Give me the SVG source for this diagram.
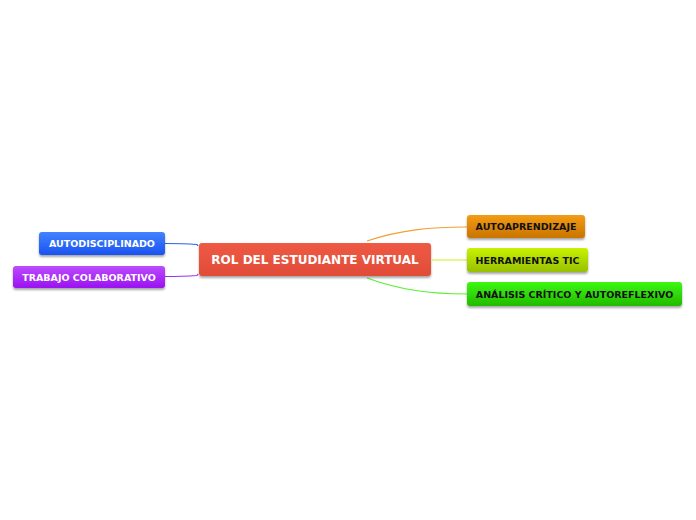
<svg xmlns="http://www.w3.org/2000/svg" width="696" height="520" viewBox="0 0 696 520">
<defs>
<filter id="sh" x="-10%" y="-30%" width="120%" height="170%">
<feGaussianBlur in="SourceAlpha" stdDeviation="1.2"/>
<feOffset dy="2" result="b"/>
<feComponentTransfer><feFuncA type="linear" slope="0.35"/></feComponentTransfer>
<feMerge><feMergeNode/><feMergeNode in="SourceGraphic"/></feMerge>
</filter>
<linearGradient id="gC" x1="0" y1="0" x2="0" y2="1"><stop offset="0" stop-color="#EE5A44"/><stop offset="1" stop-color="#E14C38"/></linearGradient>
<linearGradient id="gO" x1="0" y1="0" x2="0" y2="1"><stop offset="0" stop-color="#F49C14"/><stop offset="1" stop-color="#C87400"/></linearGradient>
<linearGradient id="gY" x1="0" y1="0" x2="0" y2="1"><stop offset="0" stop-color="#C8F206"/><stop offset="1" stop-color="#98C000"/></linearGradient>
<linearGradient id="gG" x1="0" y1="0" x2="0" y2="1"><stop offset="0" stop-color="#3DF812"/><stop offset="1" stop-color="#22BA00"/></linearGradient>
<linearGradient id="gB" x1="0" y1="0" x2="0" y2="1"><stop offset="0" stop-color="#4284FF"/><stop offset="1" stop-color="#1A52F0"/></linearGradient>
<linearGradient id="gP" x1="0" y1="0" x2="0" y2="1"><stop offset="0" stop-color="#BC4CFF"/><stop offset="1" stop-color="#9A12F0"/></linearGradient>
</defs>
<style>
.t{font-family:"DejaVu Sans","Verdana",sans-serif;font-weight:bold;text-anchor:middle}
.c{font-size:12px;fill:#ffffff}
.s{font-size:9.5px}
.dk{fill:#111111}
.wh{fill:#ffffff}
.ln{fill:none;stroke-width:1.2}
</style>
<rect width="696" height="520" fill="#ffffff"/>
<g id="connectors">
<path class="ln" stroke="#F3A032" d="M367,241 C400,230 430,227 467,227"/>
<path class="ln" stroke="#D2EE22" d="M432,260 L467,260"/>
<path class="ln" stroke="#5AF033" d="M367,278 C400,290 430,294 467,294"/>
<path class="ln" stroke="#2A60F0" d="M165,243.5 C180,243.5 190,244 197,244.5 L198,246"/>
<path class="ln" stroke="#A030F0" d="M165,276.5 C180,276.5 190,276 197,275.5 L198,274"/>
</g>
<g id="root">
<rect x="199" y="243" width="232" height="33" rx="3" fill="url(#gC)" filter="url(#sh)"/>
<text class="t c" x="315" y="264">ROL DEL ESTUDIANTE VIRTUAL</text>
</g>
<g id="n-autoaprendizaje">
<rect x="467" y="215" width="118" height="23" rx="3" fill="url(#gO)" filter="url(#sh)"/>
<text class="t s dk" x="526" y="230">AUTOAPRENDIZAJE</text>
</g>
<g id="n-herramientas">
<rect x="467" y="248" width="121" height="24" rx="3" fill="url(#gY)" filter="url(#sh)"/>
<text class="t s dk" x="527.5" y="263.5">HERRAMIENTAS TIC</text>
</g>
<g id="n-analisis">
<rect x="467" y="282" width="215" height="24" rx="3" fill="url(#gG)" filter="url(#sh)"/>
<text class="t s dk" x="574.5" y="297.5">ANÁLISIS CRÍTICO Y AUTOREFLEXIVO</text>
</g>
<g id="n-autodisciplinado">
<rect x="39" y="232" width="126" height="23" rx="3" fill="url(#gB)" filter="url(#sh)"/>
<text class="t s wh" x="102" y="247">AUTODISCIPLINADO</text>
</g>
<g id="n-trabajo">
<rect x="13" y="266" width="152" height="22" rx="3" fill="url(#gP)" filter="url(#sh)"/>
<text class="t s wh" x="89" y="280.5">TRABAJO COLABORATIVO</text>
</g>
</svg>
